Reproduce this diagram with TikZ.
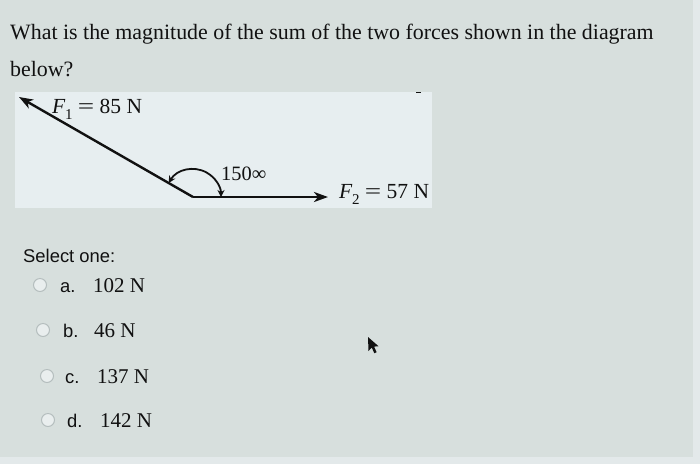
\documentclass[tikz,border=0pt]{standalone}
\usepackage{fontspec}
\usepackage{graphicx}
\setmainfont{Liberation Serif}
\setsansfont{Liberation Sans}
\usetikzlibrary{arrows.meta}
\definecolor{bgcol}{HTML}{D7DFDD}
\definecolor{panelcol}{HTML}{E7EEF0}
\definecolor{edgecol}{HTML}{E3E9EA}
\definecolor{inkcol}{HTML}{111111}
\definecolor{radiofill}{HTML}{E9EEEE}
\definecolor{radioline}{HTML}{B5BEBE}
\newcommand{\subidx}[1]{\kern-0.5pt\raisebox{-0.3em}{\fontsize{15}{15}\selectfont #1}}
\newcommand{\wideeq}{\scalebox{1.35}[1]{=}}
\begin{document}
\begin{tikzpicture}[x=1pt,y=-1pt,
  txt/.style={anchor=base west,inner sep=0pt,text=inkcol},
  ser/.style={txt,font=\fontsize{21.9}{24}\selectfont},
  opt/.style={txt,font=\fontsize{21}{24}\selectfont},
  sans/.style={txt,font=\sffamily\fontsize{18.4}{22}\selectfont},
  lbl/.style={txt,font=\fontsize{21.5}{24}\selectfont},
  force/.style={draw=inkcol,line width=2.4pt,-{Stealth[length=14pt,width=10pt,inset=4pt]}},
  anglearc/.style={draw=inkcol,line width=1.8pt,{Stealth[length=7pt,width=7pt]}-{Stealth[length=7pt,width=7pt]}},
  radio/.style={circle,draw=radioline,fill=radiofill,line width=1pt,minimum size=13pt,inner sep=0pt}]
\useasboundingbox (0,0) rectangle (700,464);
% background
\fill[bgcol] (0,0) rectangle (700,464);
\fill[edgecol] (693,0) rectangle (700,464);
\fill[edgecol] (0,457) rectangle (700,464);
% question
\node[ser] (q1) at (10,39) {What is the magnitude of the sum of the two forces shown in the diagram};
\node[ser] (q2) at (10,76) {below?};
% diagram panel
\fill[panelcol] (15,92) rectangle (432,208);
\draw[inkcol,line width=1pt] (416,92.5) -- (421,92.5);
\coordinate (O) at (193,197);
\coordinate (F1tip) at (19,97);
\coordinate (F2tip) at (328,197);
\draw[force] (O) -- (F1tip);
\draw[force] (O) -- (F2tip);
\draw[anglearc] ([shift={(-150:28)}]O) arc[start angle=-150,end angle=0,radius=28];
\node[lbl] (f1) at (52,113) {\textit{F}\subidx{1}\ \wideeq\ 85 N};
\node[lbl,font=\fontsize{20.4}{24}\selectfont] (ang) at (221,180) {150∞};
\node[lbl] (f2) at (339,198) {\textit{F}\subidx{2}\ \wideeq\ 57 N};
% answers
\node[sans] (sel) at (23,262) {Select one:};
\node[radio] (ra) at (40,285) {};
\node[radio] (rb) at (43,330) {};
\node[radio] (rc) at (47,376) {};
\node[radio] (rd) at (48,420) {};
\node[sans] (la) at (60,292) {a.};
\node[opt] (va) at (93,292) {102 N};
\node[sans] (lb) at (63,337) {b.};
\node[opt] (vb) at (94,337) {46 N};
\node[sans] (lc) at (65,383) {c.};
\node[opt] (vc) at (97,383) {137 N};
\node[sans] (ld) at (67,427) {d.};
\node[opt] (vd) at (100,427) {142 N};
% mouse pointer
\fill[inkcol] (368,337) -- (368.5,351) -- (371.8,347.6) -- (374.3,353.2) -- (376.6,352.2) -- (374.1,346.6) -- (378.5,346.2) -- cycle;
\end{tikzpicture}
\end{document}
